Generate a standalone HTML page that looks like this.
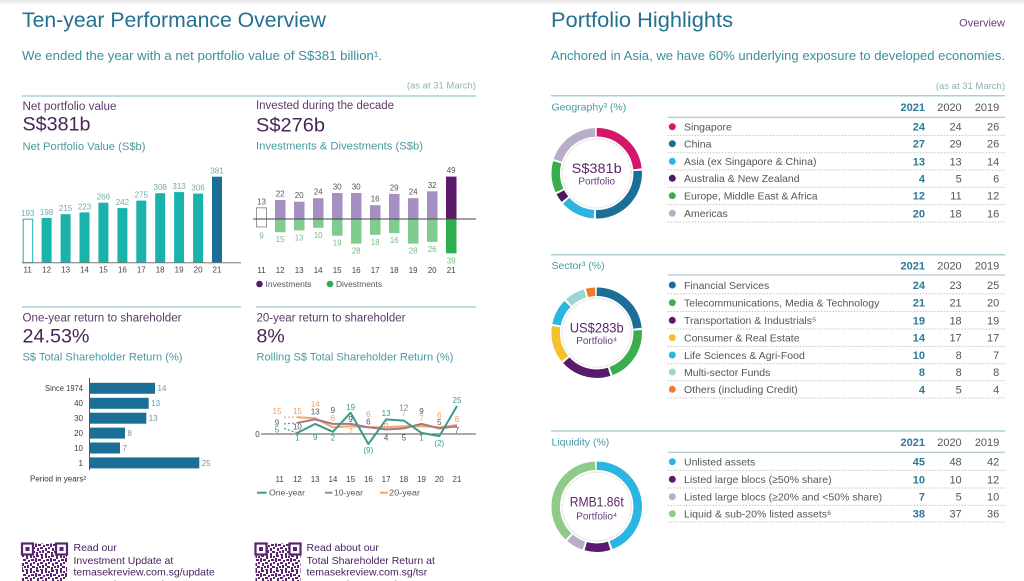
<!DOCTYPE html>
<html><head><meta charset="utf-8"><style>
html,body{margin:0;padding:0;background:#fff;}
svg{display:block;font-family:"Liberation Sans",sans-serif;}
</style></head><body>
<svg width="1024" height="581" viewBox="0 0 1024 581" xmlns="http://www.w3.org/2000/svg">
<defs>
<linearGradient id="tg" x1="0" y1="0" x2="0" y2="1"><stop offset="0" stop-color="#e4e4e4"/><stop offset="1" stop-color="#fff"/></linearGradient>
<pattern id="qr" width="15" height="15" patternUnits="userSpaceOnUse">
<rect width="15" height="15" fill="#fff"/>
<g fill="#5b2470">
<rect x="0" y="0" width="2" height="3"/><rect x="3" y="1" width="2" height="2"/><rect x="6" y="0" width="3" height="2"/>
<rect x="11" y="0" width="2" height="4"/><rect x="1" y="4" width="3" height="2"/><rect x="5" y="3" width="2" height="4"/>
<rect x="8" y="4" width="3" height="2"/><rect x="13" y="5" width="2" height="2"/><rect x="0" y="8" width="2" height="3"/>
<rect x="3" y="7" width="2" height="2"/><rect x="7" y="8" width="2" height="3"/><rect x="10" y="7" width="3" height="2"/>
<rect x="2" y="11" width="3" height="2"/><rect x="6" y="12" width="2" height="3"/><rect x="9" y="11" width="2" height="2"/>
<rect x="12" y="10" width="2" height="3"/><rect x="0" y="13" width="2" height="2"/><rect x="10" y="14" width="3" height="1"/>
</g>
</pattern>
</defs>
<rect x="0" y="0" width="1024" height="5" fill="url(#tg)"/>

<!-- LEFT HEADER -->
<text x="22" y="27" font-size="21.5" fill="#25708f" textLength="304" lengthAdjust="spacingAndGlyphs">Ten-year Performance Overview</text>
<text x="22" y="60" font-size="13" fill="#3b8e9d" textLength="360" lengthAdjust="spacingAndGlyphs">We ended the year with a net portfolio value of S$381 billion¹.</text>
<text x="476" y="88.5" font-size="9.5" fill="#8fb2b6" text-anchor="end">(as at 31 March)</text>
<line x1="22" y1="96" x2="476" y2="96" stroke="#a9cfd3" stroke-width="1.5"/>

<!-- NET PORTFOLIO -->
<text x="22.5" y="110" font-size="11.5" fill="#5a3a6a" textLength="94" lengthAdjust="spacingAndGlyphs">Net portfolio value</text>
<text x="22.5" y="130.7" font-size="19.5" fill="#4a2558" textLength="68" lengthAdjust="spacingAndGlyphs">S$381b</text>
<text x="22.5" y="150" font-size="11" fill="#4a9aa2" textLength="123" lengthAdjust="spacingAndGlyphs">Net Portfolio Value (S$b)</text>
<g>
<rect x="23.2" y="219.1" width="9.5" height="43.6" fill="#fff" stroke="#1ab3ac" stroke-width="1"/>
<rect x="41.6" y="218.0" width="10" height="44.7" fill="#1ab3ac"/>
<rect x="60.6" y="214.2" width="10" height="48.5" fill="#1ab3ac"/>
<rect x="79.5" y="212.4" width="10" height="50.3" fill="#1ab3ac"/>
<rect x="98.4" y="202.7" width="10" height="60.0" fill="#1ab3ac"/>
<rect x="117.4" y="208.1" width="10" height="54.6" fill="#1ab3ac"/>
<rect x="136.3" y="200.6" width="10" height="62.1" fill="#1ab3ac"/>
<rect x="155.2" y="193.2" width="10" height="69.5" fill="#1ab3ac"/>
<rect x="174.1" y="192.1" width="10" height="70.6" fill="#1ab3ac"/>
<rect x="193.1" y="193.6" width="10" height="69.1" fill="#1ab3ac"/>
<rect x="212.0" y="176.7" width="10" height="86.0" fill="#1a6e98"/>
<line x1="22" y1="262.7" x2="241" y2="262.7" stroke="#777" stroke-width="1"/>
</g>
<g font-size="8" fill="#72aaac" text-anchor="middle">
<text x="27.7" y="216">193</text><text x="46.6" y="215">198</text><text x="65.6" y="211.2">215</text>
<text x="84.5" y="209.4">223</text><text x="103.4" y="199.7">266</text><text x="122.4" y="205.1">242</text>
<text x="141.3" y="197.6">275</text><text x="160.2" y="190.2">308</text><text x="179.1" y="189.1">313</text>
<text x="198.1" y="190.6">306</text><text x="217" y="173.7">381</text>
</g>
<g font-size="8" fill="#444" text-anchor="middle">
<text x="27.7" y="272.5">11</text><text x="46.6" y="272.5">12</text><text x="65.6" y="272.5">13</text>
<text x="84.5" y="272.5">14</text><text x="103.4" y="272.5">15</text><text x="122.4" y="272.5">16</text>
<text x="141.3" y="272.5">17</text><text x="160.2" y="272.5">18</text><text x="179.1" y="272.5">19</text>
<text x="198.1" y="272.5">20</text><text x="217" y="272.5">21</text>
</g>

<!-- INVESTED -->
<text x="256" y="109" font-size="11.5" fill="#5a3a6a" textLength="138" lengthAdjust="spacingAndGlyphs">Invested during the decade</text>
<text x="256" y="131.5" font-size="19.5" fill="#4a2558" textLength="69" lengthAdjust="spacingAndGlyphs">S$276b</text>
<text x="256" y="149.5" font-size="11" fill="#4a9aa2" textLength="167" lengthAdjust="spacingAndGlyphs">Investments &amp; Divestments (S$b)</text>
<g>
<rect x="256.5" y="207.8" width="10" height="11.2" fill="#fff" stroke="#999" stroke-width="1"/>
<rect x="256.5" y="219" width="10" height="7.9" fill="#fff" stroke="#999" stroke-width="1"/>
<rect x="275" y="200.0" width="10.5" height="19.0" fill="#a68fc3"/>
<rect x="294" y="201.7" width="10.5" height="17.3" fill="#a68fc3"/>
<rect x="313" y="198.2" width="10.5" height="20.8" fill="#a68fc3"/>
<rect x="332" y="193.0" width="10.5" height="26.0" fill="#a68fc3"/>
<rect x="351" y="193.0" width="10.5" height="26.0" fill="#a68fc3"/>
<rect x="370" y="205.2" width="10.5" height="13.8" fill="#a68fc3"/>
<rect x="389" y="193.9" width="10.5" height="25.1" fill="#a68fc3"/>
<rect x="408" y="198.2" width="10.5" height="20.8" fill="#a68fc3"/>
<rect x="427" y="191.3" width="10.5" height="27.7" fill="#a68fc3"/>
<rect x="446" y="176.6" width="10.5" height="42.4" fill="#5b1a6b"/>
<rect x="275" y="219" width="10.5" height="13.2" fill="#80cb8e"/>
<rect x="294" y="219" width="10.5" height="11.4" fill="#80cb8e"/>
<rect x="313" y="219" width="10.5" height="8.8" fill="#80cb8e"/>
<rect x="332" y="219" width="10.5" height="16.7" fill="#80cb8e"/>
<rect x="351" y="219" width="10.5" height="24.6" fill="#80cb8e"/>
<rect x="370" y="219" width="10.5" height="15.8" fill="#80cb8e"/>
<rect x="389" y="219" width="10.5" height="14.1" fill="#80cb8e"/>
<rect x="408" y="219" width="10.5" height="24.6" fill="#80cb8e"/>
<rect x="427" y="219" width="10.5" height="22.9" fill="#80cb8e"/>
<rect x="446" y="219" width="10.5" height="34.3" fill="#2fae4f"/>
<line x1="253" y1="219" x2="476" y2="219" stroke="#444" stroke-width="1"/>
</g>
<g font-size="8" fill="#555" text-anchor="middle">
<text x="261.5" y="204.3">13</text><text x="280.2" y="196.5">22</text><text x="299.2" y="198.2">20</text>
<text x="318.2" y="194.7">24</text><text x="337.2" y="189.5">30</text><text x="356.2" y="189.5">30</text>
<text x="375.2" y="201.7">16</text><text x="394.2" y="190.4">29</text><text x="413.2" y="194.7">24</text>
<text x="432.2" y="187.8">32</text><text x="451.2" y="173.1">49</text>
</g>
<g font-size="8" fill="#6cbf7c" text-anchor="middle">
<text x="261.5" y="238.5">9</text><text x="280.2" y="242.2">15</text><text x="299.2" y="240.4">13</text>
<text x="318.2" y="237.8">10</text><text x="337.2" y="245.7">19</text><text x="356.2" y="253.6">28</text>
<text x="375.2" y="244.8">18</text><text x="394.2" y="243.1">16</text><text x="413.2" y="253.6">28</text>
<text x="432.2" y="251.9">26</text><text x="451.2" y="263.3">39</text>
</g>
<g font-size="8" fill="#444" text-anchor="middle">
<text x="261.5" y="273">11</text><text x="280.2" y="273">12</text><text x="299.2" y="273">13</text>
<text x="318.2" y="273">14</text><text x="337.2" y="273">15</text><text x="356.2" y="273">16</text>
<text x="375.2" y="273">17</text><text x="394.2" y="273">18</text><text x="413.2" y="273">19</text>
<text x="432.2" y="273">20</text><text x="451.2" y="273">21</text>
</g>
<circle cx="259.5" cy="284" r="3.3" fill="#5b1a6b"/>
<text x="265.5" y="286.8" font-size="8" fill="#555" textLength="46" lengthAdjust="spacingAndGlyphs">Investments</text>
<circle cx="330" cy="284" r="3.3" fill="#2fae4f"/>
<text x="336" y="286.8" font-size="8" fill="#555" textLength="46" lengthAdjust="spacingAndGlyphs">Divestments</text>

<!-- ONE-YEAR RETURN -->
<line x1="22" y1="307" x2="241" y2="307" stroke="#a9cfd3" stroke-width="1.5"/>
<text x="22.5" y="321.3" font-size="11.5" fill="#5a3a6a" textLength="159" lengthAdjust="spacingAndGlyphs">One-year return to shareholder</text>
<text x="22.5" y="342.7" font-size="19.5" fill="#4a2558" textLength="67" lengthAdjust="spacingAndGlyphs">24.53%</text>
<text x="22.5" y="360.7" font-size="11" fill="#4a9aa2" textLength="160" lengthAdjust="spacingAndGlyphs">S$ Total Shareholder Return (%)</text>
<g fill="#1b6f96">
<rect x="90" y="382.8" width="65" height="11"/>
<rect x="90" y="397.8" width="58.7" height="11"/>
<rect x="90" y="412.7" width="56.3" height="11"/>
<rect x="90" y="427.6" width="35" height="11"/>
<rect x="90" y="442.5" width="30" height="11"/>
<rect x="90" y="457.4" width="109.3" height="11"/>
</g>
<line x1="89.5" y1="378" x2="89.5" y2="470" stroke="#555" stroke-width="1"/>
<g font-size="8" fill="#3a3a3a" text-anchor="end">
<text x="83" y="391.2" textLength="38" lengthAdjust="spacingAndGlyphs">Since 1974</text><text x="83" y="406.2">40</text><text x="83" y="421.1">30</text>
<text x="83" y="436">20</text><text x="83" y="450.9">10</text><text x="83" y="465.8">1</text>
</g>
<g font-size="8" fill="#6a9aa8">
<text x="157.5" y="391.2">14</text><text x="151.2" y="406.2">13</text><text x="148.8" y="421.1">13</text>
<text x="127.5" y="436">8</text><text x="122.5" y="450.9">7</text><text x="201.8" y="465.8">25</text>
</g>
<text x="30" y="481.5" font-size="8" fill="#333">Period in years²</text>

<!-- 20-YEAR RETURN -->
<line x1="256" y1="307" x2="476" y2="307" stroke="#a9cfd3" stroke-width="1.5"/>
<text x="256.5" y="321.3" font-size="11.5" fill="#5a3a6a" textLength="149" lengthAdjust="spacingAndGlyphs">20-year return to shareholder</text>
<text x="256.5" y="342.7" font-size="19.5" fill="#4a2558">8%</text>
<text x="256.5" y="360.7" font-size="11" fill="#4a9aa2" textLength="197" lengthAdjust="spacingAndGlyphs">Rolling S$ Total Shareholder Return (%)</text>
<line x1="261" y1="434" x2="476" y2="434" stroke="#555" stroke-width="1"/>
<text x="257.5" y="436.8" font-size="8" fill="#444" text-anchor="middle">0</text>
<g fill="none" stroke-width="2" stroke-linejoin="round">
<line x1="284" y1="417.2" x2="297.4" y2="417.2" stroke="#f0a868" stroke-dasharray="2 2" stroke-width="1.2"/>
<line x1="284" y1="423.9" x2="297.4" y2="422.8" stroke="#a4788a" stroke-dasharray="2 2" stroke-width="1.2"/>
<line x1="284" y1="428.4" x2="297.4" y2="432.9" stroke="#3a9a8c" stroke-dasharray="2 2" stroke-width="1.2"/>
<polyline stroke="#f0a868" points="297.4,417.2 315.2,418.3 332.9,427.3 350.6,426.2 368.4,427.3 386.1,427.3 403.8,426.2 421.5,426.2 439.3,427.3 457,425"/>
<polyline stroke="#a4788a" points="297.4,422.8 315.2,419.4 332.9,423.9 350.6,423.9 368.4,427.3 386.1,429.5 403.8,428.4 421.5,423.9 439.3,428.4 457,426.2"/>
<polyline stroke="#3a9a8c" points="297.4,432.9 315.2,423.9 332.9,431.8 350.6,412.7 368.4,444.1 386.1,419.4 403.8,420.6 421.5,432.9 439.3,436.2 457,406"/>
</g>
<g font-size="8" text-anchor="middle">
<text x="277" y="413.8" fill="#f0a060">15</text><text x="277" y="425.5" fill="#555">9</text><text x="277" y="432.5" fill="#3a9a8c">5</text>
<text x="297.4" y="413.8" fill="#f0a060">15</text><text x="297.4" y="429.5" fill="#555">10</text><text x="297.4" y="440.5" fill="#3a9a8c">1</text>
<text x="315.2" y="406.8" fill="#f0a060">14</text><text x="315.2" y="414.5" fill="#555">13</text><text x="315.2" y="439.8" fill="#3a9a8c">9</text>
<text x="332.9" y="412.8" fill="#555">9</text><text x="332.9" y="420.8" fill="#f0a060">6</text><text x="332.9" y="440.5" fill="#3a9a8c">2</text>
<text x="350.6" y="409.8" fill="#3a9a8c">19</text><text x="350.6" y="421.8" fill="#555">9</text><text x="350.6" y="433.8" fill="#f0a060">7</text>
<text x="368.4" y="416.8" fill="#f0a060">6</text><text x="368.4" y="424.5" fill="#555">6</text><text x="368.4" y="452.8" fill="#3a9a8c">(9)</text>
<text x="386.1" y="416.1" fill="#3a9a8c">13</text><text x="386.1" y="426.8" fill="#f0a060">6</text><text x="386.1" y="440.5" fill="#555">4</text>
<text x="403.8" y="410.5" fill="#3a9a8c">12</text><text x="403.8" y="416.1" fill="#f0a060">7</text><text x="403.8" y="440.5" fill="#555">5</text>
<text x="421.5" y="413.8" fill="#555">9</text><text x="421.5" y="421.1" fill="#f0a060">7</text><text x="421.5" y="440.5" fill="#3a9a8c">1</text>
<text x="439.3" y="417.8" fill="#f0a060">6</text><text x="439.3" y="425.1" fill="#555">5</text><text x="439.3" y="446.1" fill="#3a9a8c">(2)</text>
<text x="457" y="402.8" fill="#3a9a8c">25</text><text x="457" y="422.1" fill="#f0a060">8</text><text x="457" y="432.8" fill="#555">7</text>
</g>
<g font-size="8" fill="#444" text-anchor="middle">
<text x="279.7" y="482">11</text><text x="297.4" y="482">12</text><text x="315.2" y="482">13</text>
<text x="332.9" y="482">14</text><text x="350.6" y="482">15</text><text x="368.4" y="482">16</text>
<text x="386.1" y="482">17</text><text x="403.8" y="482">18</text><text x="421.5" y="482">19</text>
<text x="439.3" y="482">20</text><text x="457" y="482">21</text>
</g>
<line x1="257" y1="492.7" x2="266.5" y2="492.7" stroke="#3a9a8c" stroke-width="2"/>
<text x="269" y="495.5" font-size="8" fill="#555" textLength="36" lengthAdjust="spacingAndGlyphs">One-year</text>
<line x1="325" y1="492.7" x2="332.5" y2="492.7" stroke="#9a8a98" stroke-width="2"/>
<text x="334" y="495.5" font-size="8" fill="#555" textLength="29" lengthAdjust="spacingAndGlyphs">10-year</text>
<line x1="380" y1="492.7" x2="388" y2="492.7" stroke="#f0a868" stroke-width="2"/>
<text x="389" y="495.5" font-size="8" fill="#555" textLength="31" lengthAdjust="spacingAndGlyphs">20-year</text>

<!-- QR blocks -->
<g>
<rect x="22" y="543.5" width="45" height="45" fill="url(#qr)"/>
<rect x="22" y="543.5" width="11" height="11" fill="#fff" stroke="#5b2470" stroke-width="2.2"/>
<rect x="25.5" y="547" width="4" height="4" fill="#5b2470"/>
<rect x="56" y="543.5" width="11" height="11" fill="#fff" stroke="#5b2470" stroke-width="2.2"/>
<rect x="59.5" y="547" width="4" height="4" fill="#5b2470"/>
<rect x="255.5" y="543.5" width="45" height="45" fill="url(#qr)"/>
<rect x="255.5" y="543.5" width="11" height="11" fill="#fff" stroke="#5b2470" stroke-width="2.2"/>
<rect x="259" y="547" width="4" height="4" fill="#5b2470"/>
<rect x="289.5" y="543.5" width="11" height="11" fill="#fff" stroke="#5b2470" stroke-width="2.2"/>
<rect x="293" y="547" width="4" height="4" fill="#5b2470"/>
</g>
<g font-size="10.5" fill="#4a2060">
<text x="73.5" y="551">Read our</text>
<text x="73.5" y="564">Investment Update at</text>
<text x="73.5" y="575.5">temasekreview.com.sg/update</text>
<text x="73.5" y="588">or scan the QR code</text>
<text x="306.5" y="551">Read about our</text>
<text x="306.5" y="564">Total Shareholder Return at</text>
<text x="306.5" y="575.5">temasekreview.com.sg/tsr</text>
<text x="306.5" y="588">or scan the QR code</text>
</g>

<!-- RIGHT HEADER -->
<text x="551" y="27" font-size="21.5" fill="#25708f" textLength="182" lengthAdjust="spacingAndGlyphs">Portfolio Highlights</text>
<text x="1005" y="26.5" font-size="11" fill="#6a3a7a" text-anchor="end">Overview</text>
<text x="551" y="60" font-size="13" fill="#3b8e9d" textLength="454" lengthAdjust="spacingAndGlyphs">Anchored in Asia, we have 60% underlying exposure to developed economies.</text>
<text x="1005" y="89" font-size="9.5" fill="#8fb2b6" text-anchor="end">(as at 31 March)</text>
<line x1="551" y1="95.7" x2="1005" y2="95.7" stroke="#a9cfd3" stroke-width="1.5"/>
<line x1="551" y1="254.7" x2="1005" y2="254.7" stroke="#a9cfd3" stroke-width="1.5"/>
<line x1="551" y1="431" x2="1005" y2="431" stroke="#a9cfd3" stroke-width="1.5"/>

<!-- GEOGRAPHY -->
<text x="551.5" y="110.5" font-size="10.5" fill="#4a9aa6">Geography³ (%)</text>
<g font-size="11" text-anchor="end">
<text x="925" y="111" fill="#2a7a9a" font-weight="bold">2021</text>
<text x="961.7" y="111" fill="#555">2020</text>
<text x="999.3" y="111" fill="#555">2019</text>
</g>
<line x1="667.7" y1="117.3" x2="1005" y2="117.3" stroke="#9fbcc6" stroke-width="1"/>
<g stroke="#c4c4c4" stroke-width="1" stroke-dasharray="1.5 1.5">
<line x1="667.7" y1="135.4" x2="1005" y2="135.4"/><line x1="667.7" y1="152.7" x2="1005" y2="152.7"/>
<line x1="667.7" y1="170" x2="1005" y2="170"/><line x1="667.7" y1="187.3" x2="1005" y2="187.3"/>
<line x1="667.7" y1="204.6" x2="1005" y2="204.6"/><line x1="667.7" y1="222" x2="1005" y2="222"/>
</g>
<g>
<circle cx="672.3" cy="126.7" r="3.5" fill="#d4176b"/><circle cx="672.3" cy="143.7" r="3.5" fill="#1b6f96"/>
<circle cx="672.3" cy="161.3" r="3.5" fill="#2bb6e2"/><circle cx="672.3" cy="178.3" r="3.5" fill="#4b1a5f"/>
<circle cx="672.3" cy="195.7" r="3.5" fill="#3aad4f"/><circle cx="672.3" cy="213.3" r="3.5" fill="#b9adc9"/>
</g>
<g font-size="10.5" fill="#555">
<text x="684" y="130.5">Singapore</text><text x="684" y="147.5">China</text>
<text x="684" y="165.1">Asia (ex Singapore &amp; China)</text><text x="684" y="182.1">Australia &amp; New Zealand</text>
<text x="684" y="199.5">Europe, Middle East &amp; Africa</text><text x="684" y="217.1">Americas</text>
</g>
<g font-size="11" text-anchor="end">
<g fill="#2a7a9a" font-weight="bold">
<text x="925" y="130.7">24</text><text x="925" y="147.7">27</text><text x="925" y="165.3">13</text>
<text x="925" y="182.3">4</text><text x="925" y="199.7">12</text><text x="925" y="217.3">20</text>
</g>
<g fill="#555">
<text x="961.7" y="130.7">24</text><text x="961.7" y="147.7">29</text><text x="961.7" y="165.3">13</text>
<text x="961.7" y="182.3">5</text><text x="961.7" y="199.7">11</text><text x="961.7" y="217.3">18</text>
<text x="999.3" y="130.7">26</text><text x="999.3" y="147.7">26</text><text x="999.3" y="165.3">14</text>
<text x="999.3" y="182.3">6</text><text x="999.3" y="199.7">12</text><text x="999.3" y="217.3">16</text>
</g>
</g>
<g transform="rotate(-90 596.7 173.3)" fill="none" stroke-width="8.5">
<circle cx="596.7" cy="173.3" r="41" stroke="#d4176b" stroke-dasharray="59.8 300" stroke-dashoffset="0"/>
<circle cx="596.7" cy="173.3" r="41" stroke="#1b6f96" stroke-dasharray="67.5 300" stroke-dashoffset="-61.83"/>
<circle cx="596.7" cy="173.3" r="41" stroke="#2bb6e2" stroke-dasharray="31.5 300" stroke-dashoffset="-131.38"/>
<circle cx="596.7" cy="173.3" r="41" stroke="#4b1a5f" stroke-dasharray="8.3 300" stroke-dashoffset="-164.87"/>
<circle cx="596.7" cy="173.3" r="41" stroke="#3aad4f" stroke-dasharray="28.9 300" stroke-dashoffset="-175.18"/>
<circle cx="596.7" cy="173.3" r="41" stroke="#b9adc9" stroke-dasharray="49.5 300" stroke-dashoffset="-206.09"/>
</g>
<circle cx="596.7" cy="173.3" r="34.5" fill="none" stroke="#d4d4d4" stroke-width="1.5" stroke-dasharray="1 1.5"/>
<text x="596.7" y="173" font-size="14" fill="#5a2a6a" text-anchor="middle" textLength="50" lengthAdjust="spacingAndGlyphs">S$381b</text>
<text x="596.7" y="184.5" font-size="10" fill="#6a3a7a" text-anchor="middle">Portfolio</text>

<!-- SECTOR -->
<text x="551.5" y="269" font-size="10.5" fill="#4a9aa6">Sector³ (%)</text>
<g font-size="11" text-anchor="end">
<text x="925" y="269.5" fill="#2a7a9a" font-weight="bold">2021</text>
<text x="961.7" y="269.5" fill="#555">2020</text>
<text x="999.3" y="269.5" fill="#555">2019</text>
</g>
<line x1="667.7" y1="275" x2="1005" y2="275" stroke="#9fbcc6" stroke-width="1"/>
<g stroke="#c4c4c4" stroke-width="1" stroke-dasharray="1.5 1.5">
<line x1="667.7" y1="293.7" x2="1005" y2="293.7"/><line x1="667.7" y1="311.4" x2="1005" y2="311.4"/>
<line x1="667.7" y1="329" x2="1005" y2="329"/><line x1="667.7" y1="346.4" x2="1005" y2="346.4"/>
<line x1="667.7" y1="363.7" x2="1005" y2="363.7"/><line x1="667.7" y1="380.7" x2="1005" y2="380.7"/>
<line x1="667.7" y1="398" x2="1005" y2="398"/>
</g>
<g>
<circle cx="672.3" cy="285" r="3.5" fill="#1b6f96"/><circle cx="672.3" cy="302.7" r="3.5" fill="#3aad4f"/>
<circle cx="672.3" cy="320.3" r="3.5" fill="#5a1a6e"/><circle cx="672.3" cy="337.7" r="3.5" fill="#f4c12c"/>
<circle cx="672.3" cy="355" r="3.5" fill="#2bb6e2"/><circle cx="672.3" cy="372" r="3.5" fill="#9dd5d6"/>
<circle cx="672.3" cy="389.3" r="3.5" fill="#f07a2e"/>
</g>
<g font-size="10.5" fill="#555">
<text x="684" y="288.8">Financial Services</text>
<text x="684" y="306.5">Telecommunications, Media &amp; Technology</text>
<text x="684" y="324.1">Transportation &amp; Industrials⁵</text>
<text x="684" y="341.5">Consumer &amp; Real Estate</text>
<text x="684" y="358.8">Life Sciences &amp; Agri-Food</text>
<text x="684" y="375.8">Multi-sector Funds</text>
<text x="684" y="393.1">Others (including Credit)</text>
</g>
<g font-size="11" text-anchor="end">
<g fill="#2a7a9a" font-weight="bold">
<text x="925" y="289">24</text><text x="925" y="306.7">21</text><text x="925" y="324.3">19</text>
<text x="925" y="341.7">14</text><text x="925" y="359">10</text><text x="925" y="376">8</text><text x="925" y="393.3">4</text>
</g>
<g fill="#555">
<text x="961.7" y="289">23</text><text x="961.7" y="306.7">21</text><text x="961.7" y="324.3">18</text>
<text x="961.7" y="341.7">17</text><text x="961.7" y="359">8</text><text x="961.7" y="376">8</text><text x="961.7" y="393.3">5</text>
<text x="999.3" y="289">25</text><text x="999.3" y="306.7">20</text><text x="999.3" y="324.3">19</text>
<text x="999.3" y="341.7">17</text><text x="999.3" y="359">7</text><text x="999.3" y="376">8</text><text x="999.3" y="393.3">4</text>
</g>
</g>
<g transform="rotate(-90 596.7 332.7)" fill="none" stroke-width="8.5">
<circle cx="596.7" cy="332.7" r="41" stroke="#1b6f96" stroke-dasharray="59.8 300" stroke-dashoffset="0"/>
<circle cx="596.7" cy="332.7" r="41" stroke="#3aad4f" stroke-dasharray="52.1 300" stroke-dashoffset="-61.83"/>
<circle cx="596.7" cy="332.7" r="41" stroke="#5a1a6e" stroke-dasharray="46.9 300" stroke-dashoffset="-115.92"/>
<circle cx="596.7" cy="332.7" r="41" stroke="#f4c12c" stroke-dasharray="34.1 300" stroke-dashoffset="-164.87"/>
<circle cx="596.7" cy="332.7" r="41" stroke="#2bb6e2" stroke-dasharray="23.8 300" stroke-dashoffset="-200.94"/>
<circle cx="596.7" cy="332.7" r="41" stroke="#9dd5d6" stroke-dasharray="18.6 300" stroke-dashoffset="-226.70"/>
<circle cx="596.7" cy="332.7" r="41" stroke="#f07a2e" stroke-dasharray="8.3 300" stroke-dashoffset="-247.31"/>
</g>
<circle cx="596.7" cy="332.7" r="34.5" fill="none" stroke="#d4d4d4" stroke-width="1.5" stroke-dasharray="1 1.5"/>
<text x="596.7" y="332.5" font-size="14" fill="#5a2a6a" text-anchor="middle" textLength="54" lengthAdjust="spacingAndGlyphs">US$283b</text>
<text x="596.7" y="344" font-size="10" fill="#6a3a7a" text-anchor="middle">Portfolio⁴</text>

<!-- LIQUIDITY -->
<text x="551.5" y="445.5" font-size="10.5" fill="#4a9aa6">Liquidity (%)</text>
<g font-size="11" text-anchor="end">
<text x="925" y="446" fill="#2a7a9a" font-weight="bold">2021</text>
<text x="961.7" y="446" fill="#555">2020</text>
<text x="999.3" y="446" fill="#555">2019</text>
</g>
<line x1="667.7" y1="452.3" x2="1005" y2="452.3" stroke="#9fbcc6" stroke-width="1"/>
<g stroke="#c4c4c4" stroke-width="1" stroke-dasharray="1.5 1.5">
<line x1="667.7" y1="470.4" x2="1005" y2="470.4"/><line x1="667.7" y1="488" x2="1005" y2="488"/>
<line x1="667.7" y1="505.4" x2="1005" y2="505.4"/><line x1="667.7" y1="522" x2="1005" y2="522"/>
</g>
<g>
<circle cx="672.3" cy="461.7" r="3.5" fill="#2bb6e2"/><circle cx="672.3" cy="479.3" r="3.5" fill="#5a1a6e"/>
<circle cx="672.3" cy="496.7" r="3.5" fill="#b9adc9"/><circle cx="672.3" cy="513.7" r="3.5" fill="#8fcb88"/>
</g>
<g font-size="10.5" fill="#555">
<text x="684" y="465.5">Unlisted assets</text>
<text x="684" y="483.1">Listed large blocs (≥50% share)</text>
<text x="684" y="500.5">Listed large blocs (≥20% and &lt;50% share)</text>
<text x="684" y="517.5">Liquid &amp; sub-20% listed assets⁶</text>
</g>
<g font-size="11" text-anchor="end">
<g fill="#2a7a9a" font-weight="bold">
<text x="925" y="465.7">45</text><text x="925" y="483.3">10</text><text x="925" y="500.7">7</text><text x="925" y="517.7">38</text>
</g>
<g fill="#555">
<text x="961.7" y="465.7">48</text><text x="961.7" y="483.3">10</text><text x="961.7" y="500.7">5</text><text x="961.7" y="517.7">37</text>
<text x="999.3" y="465.7">42</text><text x="999.3" y="483.3">12</text><text x="999.3" y="500.7">10</text><text x="999.3" y="517.7">36</text>
</g>
</g>
<g transform="rotate(-90 596.7 506.7)" fill="none" stroke-width="8.5">
<circle cx="596.7" cy="506.7" r="41" stroke="#2bb6e2" stroke-dasharray="113.9 300" stroke-dashoffset="0"/>
<circle cx="596.7" cy="506.7" r="41" stroke="#5a1a6e" stroke-dasharray="23.8 300" stroke-dashoffset="-115.92"/>
<circle cx="596.7" cy="506.7" r="41" stroke="#b9adc9" stroke-dasharray="16.0 300" stroke-dashoffset="-141.69"/>
<circle cx="596.7" cy="506.7" r="41" stroke="#8fcb88" stroke-dasharray="95.9 300" stroke-dashoffset="-159.72"/>
</g>
<circle cx="596.7" cy="506.7" r="34.5" fill="none" stroke="#d4d4d4" stroke-width="1.5" stroke-dasharray="1 1.5"/>
<text x="596.7" y="506.7" font-size="14" fill="#5a2a6a" text-anchor="middle" textLength="54" lengthAdjust="spacingAndGlyphs">RMB1.86t</text>
<text x="596.7" y="519.5" font-size="10" fill="#6a3a7a" text-anchor="middle">Portfolio⁴</text>
</svg>
</body></html>
